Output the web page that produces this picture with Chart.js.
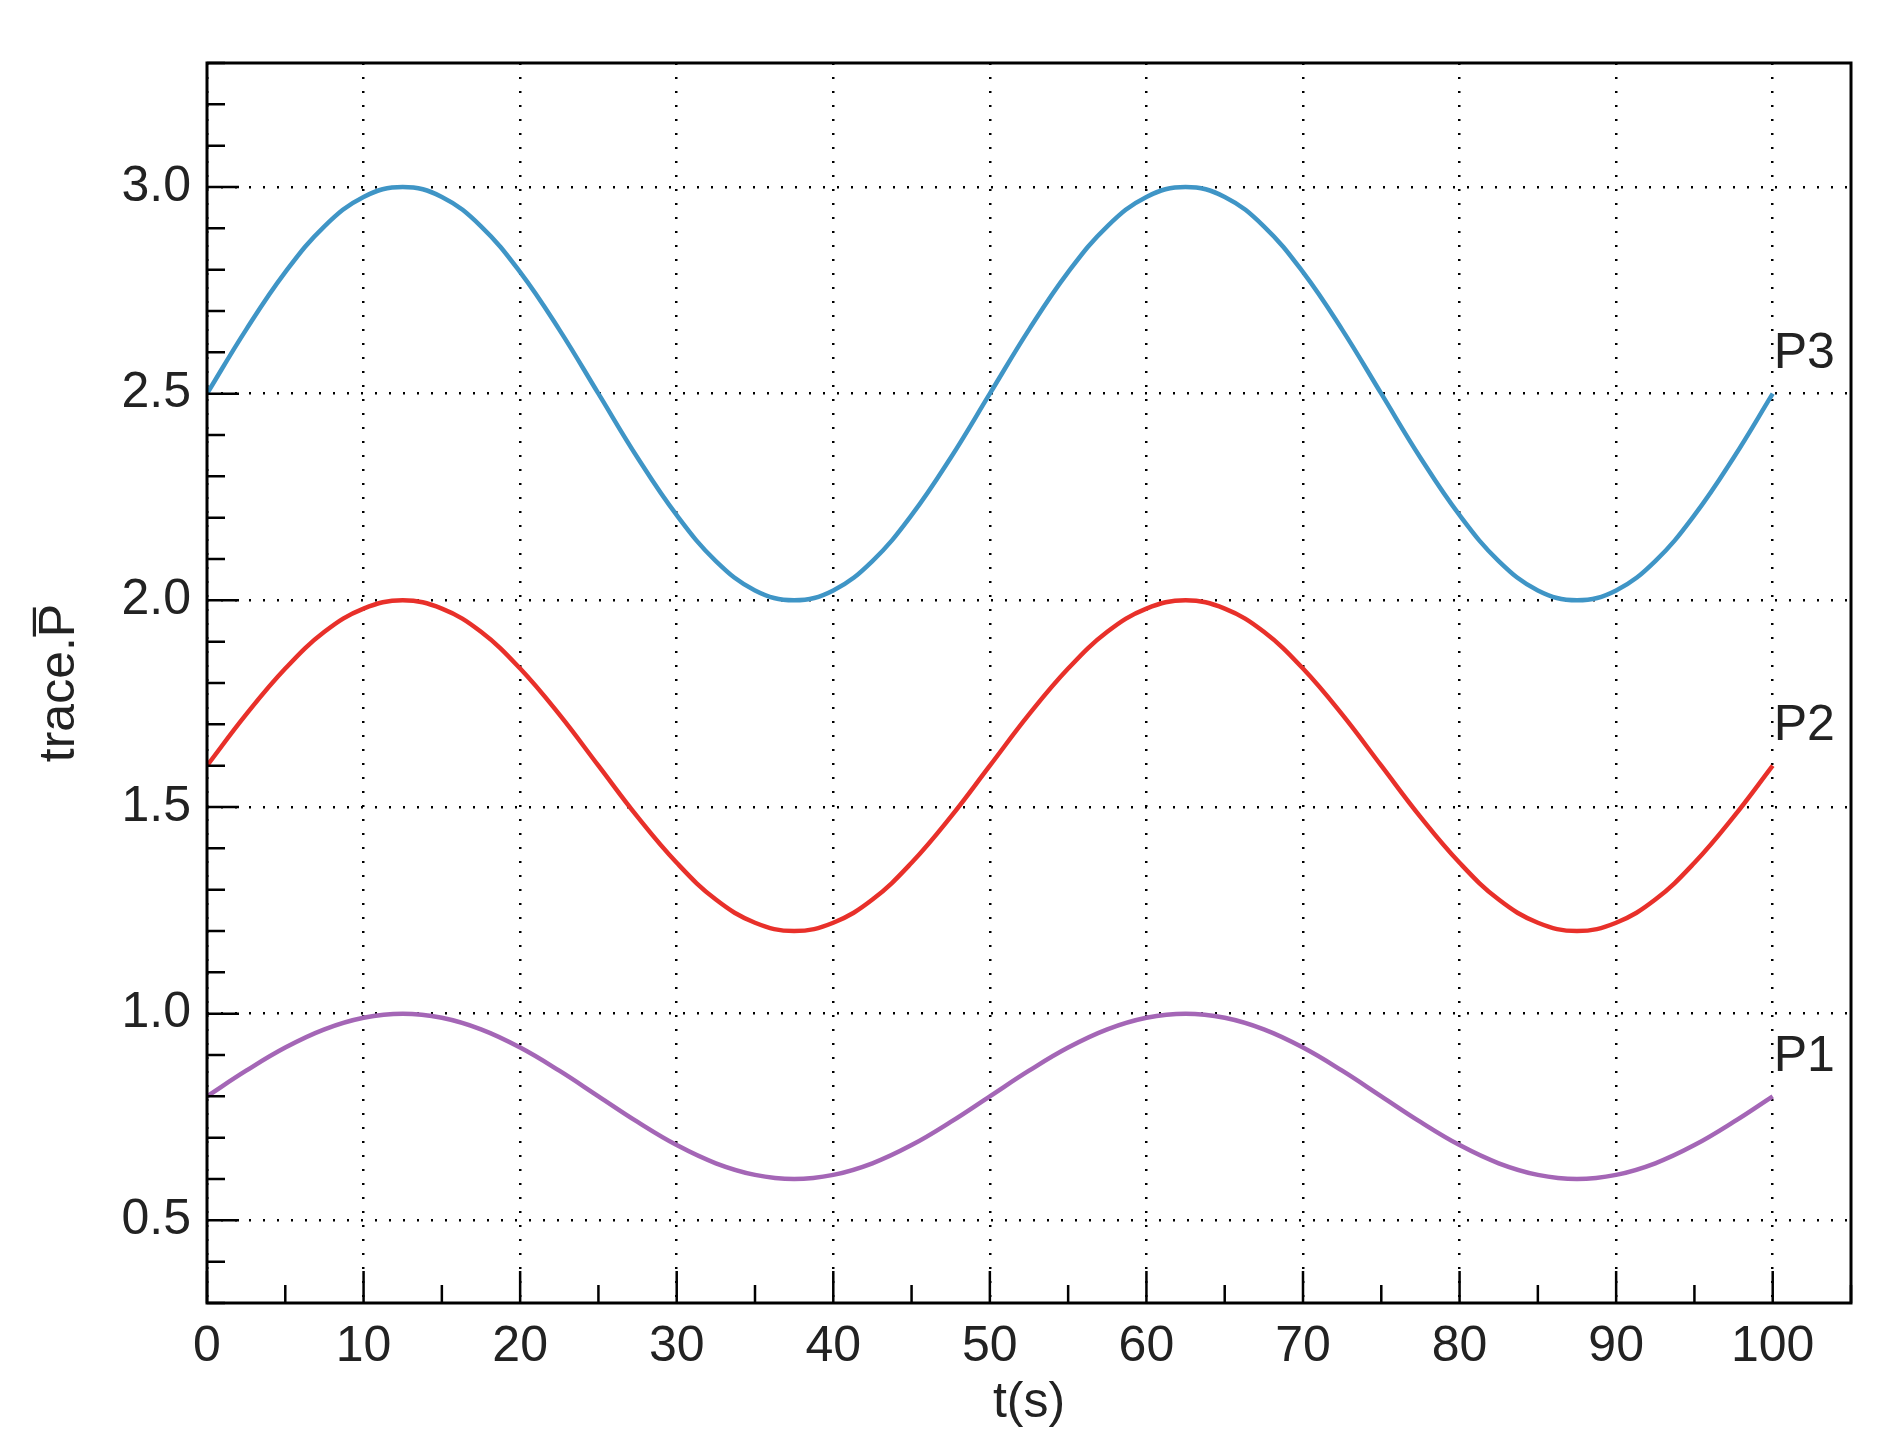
<!DOCTYPE html>
<html><head><meta charset="utf-8">
<script src="https://cdn.jsdelivr.net/npm/chart.js@4/dist/chart.umd.min.js"></script>
<style>html,body{margin:0;padding:0;background:#fff}#c{display:block}</style>
</head><body>
<canvas id="c" width="1891" height="1437"></canvas>
<script>
const times = [0,2.5,5,7.5,10,12.5,15,17.5,20,22.5,25,27.5,30,32.5,35,37.5,40,42.5,45,47.5,50,52.5,55,57.5,60,62.5,65,67.5,70,72.5,75,77.5,80,82.5,85,87.5,90,92.5,95,97.5,100];
const p3 = [2.5,2.655,2.794,2.905,2.976,3.0,2.976,2.905,2.794,2.655,2.5,2.345,2.206,2.095,2.024,2.0,2.024,2.095,2.206,2.345,
            2.5,2.655,2.794,2.905,2.976,3.0,2.976,2.905,2.794,2.655,2.5,2.345,2.206,2.095,2.024,2.0,2.024,2.095,2.206,2.345,2.5];
const p2 = [1.6,1.724,1.835,1.924,1.980,2.0,1.980,1.924,1.835,1.724,1.6,1.476,1.365,1.276,1.220,1.2,1.220,1.276,1.365,1.476,
            1.6,1.724,1.835,1.924,1.980,2.0,1.980,1.924,1.835,1.724,1.6,1.476,1.365,1.276,1.220,1.2,1.220,1.276,1.365,1.476,1.6];
const p1 = [0.8,0.862,0.918,0.962,0.990,1.0,0.990,0.962,0.918,0.862,0.8,0.738,0.682,0.638,0.610,0.6,0.610,0.638,0.682,0.738,
            0.8,0.862,0.918,0.962,0.990,1.0,0.990,0.962,0.918,0.862,0.8,0.738,0.682,0.638,0.610,0.6,0.610,0.638,0.682,0.738,0.8];
const seriesNames = ['P3','P2','P1'];
const seriesColors = ['#3f95c6','#e8302a','#a466b6'];
const xMajor = [0,10,20,30,40,50,60,70,80,90,100];
const yMajor = [0.5,1.0,1.5,2.0,2.5,3.0];

const FONT = '"Liberation Sans", Arial, sans-serif';
const mk = (arr)=>times.map((t,i)=>({x:t,y:arr[i]}));
const datasets = [p3,p2,p1].map((arr,i)=>({label:seriesNames[i],data:mk(arr),borderColor:seriesColors[i],borderWidth:4.5,pointRadius:0,tension:0.4,fill:false}));

const frame = {
  id:'frame',
  afterDraw(chart){
    const ctx=chart.ctx, a=chart.chartArea, xs=chart.scales.x, ys=chart.scales.y;
    ctx.save();
    ctx.strokeStyle='#000'; ctx.lineWidth=3;
    ctx.strokeRect(a.left,a.top,a.right-a.left,a.bottom-a.top);
    ctx.lineWidth=2.5;
    ctx.beginPath();
    for(let v=0; v<=105; v+=5){
      const px=xs.getPixelForValue(v); const len=(v%10===0)?32:18;
      ctx.moveTo(px,a.bottom); ctx.lineTo(px,a.bottom-len);
    }
    for(let k=3; k<=33; k++){
      const v=k/10; const py=ys.getPixelForValue(v); const len=(k%5===0)?32:18;
      ctx.moveTo(a.left,py); ctx.lineTo(a.left+len,py);
    }
    ctx.stroke();
    ctx.fillStyle='#222'; ctx.font='50px '+FONT; ctx.textAlign='left'; ctx.textBaseline='bottom';
    chart.data.datasets.forEach((d)=>{
      const last=d.data[d.data.length-1];
      ctx.fillText(d.label, xs.getPixelForValue(last.x)+1, ys.getPixelForValue(last.y)-14);
    });
    ctx.restore();
  }
};

new Chart(document.getElementById('c'),{
  type:'line',
  data:{datasets},
  plugins:[frame],
  options:{
    responsive:false, animation:false,
    layout:{padding:{top:63,right:40,left:0,bottom:0}},
    plugins:{legend:{display:false},tooltip:{enabled:false}},
    scales:{
      x:{type:'linear',min:0,max:105,
        afterBuildTicks(s){s.ticks=xMajor.map(v=>({value:v}));},
        afterFit(s){s.height=134;},
        border:{display:false,dash:[2,12]},
        grid:{color:'#000',lineWidth:2.5,drawTicks:false},
        ticks:{color:'#222',font:{family:FONT,size:50},padding:14,maxRotation:0,callback:v=>String(v)},
        title:{display:true,text:'t(s)',color:'#222',font:{family:FONT,size:50},padding:{top:-8}}
      },
      y:{type:'linear',min:0.3,max:3.3,
        afterBuildTicks(s){s.ticks=yMajor.map(v=>({value:v}));},
        afterFit(s){s.width=207;},
        border:{display:false,dash:[2,12]},
        grid:{color:'#000',lineWidth:2.5,drawTicks:false},
        ticks:{color:'#222',font:{family:FONT,size:50},padding:16,callback:v=>v.toFixed(1)},
        title:{display:true,text:'trace.P\u0305',color:'#222',font:{family:FONT,size:50},padding:{top:30,bottom:0}}
      }
    }
  }
});
</script>
</body></html>
